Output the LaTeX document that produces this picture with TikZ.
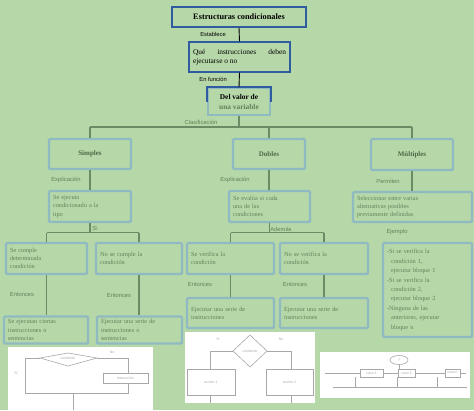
\documentclass[tikz,border=0pt]{standalone}
\usepackage{fontspec}
\setmainfont{Liberation Serif}
\newfontfamily\labfont{Liberation Sans}
\usetikzlibrary{shapes.geometric}
\definecolor{bggreen}{HTML}{B6D7A8}
\definecolor{topblue}{HTML}{2E5C9E}
\definecolor{blurblue}{HTML}{8FBAC2}
\definecolor{blurline}{HTML}{6A8B63}
\definecolor{blurtext}{HTML}{5F825A}
\definecolor{fcgray}{HTML}{A8A8A8}
\begin{document}
\begin{tikzpicture}[x=1pt,y=-1pt,
  topbox/.style={draw=topblue, line width=1.3pt, inner sep=2pt},
  blurbox/.style={draw=blurblue, line width=2.4pt, rounded corners=1.2pt, inner xsep=3.5pt, inner ysep=2pt,
    align=left, text=blurtext, font=\fontsize{6.3}{8.3}\selectfont},
  titlebox/.style={blurbox, align=center, text=blurtext!80!black, font=\bfseries\fontsize{7}{8}\selectfont},
  conn/.style={line width=0.9pt, draw=black},
  bconn/.style={line width=1.6pt, draw=blurline},
  lab/.style={font=\labfont\fontsize{5.8}{6.5}\selectfont, inner sep=1pt},
  blab/.style={font=\labfont\fontsize{5.8}{6.5}\selectfont, text=blurtext, inner sep=1pt},
  fcline/.style={draw=fcgray, line width=0.6pt},
  fctext/.style={font=\labfont\fontsize{3.5}{4}\selectfont, text=fcgray, inner sep=0.5pt}]
\fill[bggreen] (0,0) rectangle (474,410);
\useasboundingbox (0,0) rectangle (474,410);

% top part
\node[topbox, minimum width=134pt, minimum height=20pt, font=\bfseries\fontsize{8.3}{9}\selectfont] (b1) at (239,17) {Estructuras condicionales};
\node[topbox, minimum width=101pt, minimum height=30pt, text width=93pt, align=justify, font=\fontsize{7.4}{9}\selectfont] (b2) at (239.5,57) {Qué instrucciones deben \mbox{ejecutarse} o no};
\node[draw=blurblue, line width=2pt, minimum width=62pt, minimum height=27pt, align=center, inner sep=1.5pt, font=\fontsize{7.4}{9.5}\selectfont] (b3) at (239,101.5) {\textbf{Del valor de}\\[0.5pt]\textcolor{blurtext}{\bfseries una variable}};
\draw[draw=topblue, line width=1.3pt] (b3.west) -- (b3.north west) -- (b3.north east) -- (b3.east);
\draw[conn] (b1.south) -- (b2.north) node[lab, pos=0.5, left=12pt] {Establece};
\draw[conn] (b2.south) -- (b3.north) node[lab, pos=0.45, left=11pt] {En función};

% level 1
\node[titlebox, minimum width=82pt, minimum height=30pt] (simp) at (90,154) {Simples};
\node[titlebox, minimum width=72pt, minimum height=30pt] (dobl) at (269,154) {Dobles};
\node[titlebox, minimum width=82pt, minimum height=31pt] (mult) at (412,154.5) {Múltiples};
\coordinate (bus) at (239,127);
\draw[bconn] (b3.south) -- (bus);
\draw[bconn] (simp.north |- bus) -- (mult.north |- bus);
\draw[bconn] (simp.north |- bus) -- (simp.north);
\draw[bconn] (dobl.north |- bus) -- (dobl.north);
\draw[bconn] (mult.north |- bus) -- (mult.north);
\node[blab] (clas) at (201,122) {Clasificación};

% level 2
\node[blurbox, minimum width=82pt, minimum height=31pt, text width=74pt] (s2) at (90,206.5) {Se ejecuta\\condicionado a la\\tipo};
\node[blurbox, minimum width=81pt, minimum height=31pt, text width=73pt] (d2) at (269.5,206.5) {Se evalúa si cada\\una de las\\condiciones};
\node[blurbox, minimum width=119pt, minimum height=30pt, text width=111pt] (m2) at (412.5,207) {Seleccionar entre varias\\alternativas posibles\\previamente definidas};
\draw[bconn] (simp.south) -- (s2.north);
\draw[bconn] (dobl.south) -- (dobl.south |- d2.north);
\draw[bconn] (mult.south) -- (mult.south |- m2.north);
\node[blab] (l1) at (66,180) {Explicación};
\node[blab] (l2) at (235,180) {Explicación};
\node[blab] (l3) at (388,181) {Permiten};

% simples branch
\coordinate (sb) at (90,232.5);
\node[blurbox, minimum width=81pt, minimum height=31pt, text width=73pt] (sa) at (46.5,258.5) {Se cumple\\determinada\\condición};
\node[blurbox, minimum width=86pt, minimum height=31pt, text width=78pt] (sn) at (139,258.5) {No se cumple la\\condición};
\draw[bconn] (s2.south) -- (sb);
\draw[bconn] (sa.north |- sb) -- (sn.north |- sb);
\draw[bconn] (sa.north |- sb) -- (sa.north);
\draw[bconn] (sn.north |- sb) -- (sn.north);
\node[blab] (l4) at (95,228) {Si};
\node[blurbox, minimum width=84pt, minimum height=27pt, text width=76pt] (sc) at (46,330) {Se ejecutan ciertas\\instrucciones o\\sentencias};
\node[blurbox, minimum width=85pt, minimum height=27pt, text width=77pt] (sd) at (139.5,330) {Ejecutar una serie de\\instrucciones o\\sentencias};
\draw[bconn] (sa.south) -- (sa.south |- sc.north);
\draw[bconn] (sn.south) -- (sn.south |- sd.north);
\node[blab] (l5) at (22,295) {Entonces};
\node[blab] (l6) at (119,296) {Entonces};

% dobles branch
\coordinate (db) at (269.5,232.5);
\node[blurbox, minimum width=87pt, minimum height=31pt, text width=79pt] (de) at (230.5,258.5) {Se verifica la\\condición};
\node[blurbox, minimum width=88pt, minimum height=31pt, text width=80pt] (df) at (324,258.5) {No se verifica la\\condición};
\draw[bconn] (d2.south) -- (db);
\draw[bconn] (de.north |- db) -- (df.north |- db);
\draw[bconn] (de.north |- db) -- (de.north);
\draw[bconn] (df.north |- db) -- (df.north);
\node[blab] (l7) at (281,229) {Además};
\node[blurbox, minimum width=87pt, minimum height=30pt, text width=79pt] (dg) at (230.5,313) {Ejecutar una serie de\\instrucciones};
\node[blurbox, minimum width=88pt, minimum height=30pt, text width=80pt] (dh) at (324,313) {Ejecutar una serie de\\instrucciones};
\draw[bconn] (de.south) -- (de.south |- dg.north);
\draw[bconn] (df.south) -- (df.south |- dh.north);
\node[blab] (l8) at (200,285) {Entonces};
\node[blab] (l9) at (295,285) {Entonces};

% multiples branch
\node[blurbox, minimum width=89pt, minimum height=94pt, text width=81pt, font=\fontsize{6.3}{9.4}\selectfont] (mi) at (427.5,290) {-Si se verifica la\\\hspace*{4pt}condición 1,\\\hspace*{4pt}ejecutar bloque 1\\-Si se verifica la\\\hspace*{4pt}condición 2,\\\hspace*{4pt}ejecutar bloque 2\\-Ninguna de las\\\hspace*{4pt}anteriores, ejecutar\\\hspace*{4pt}bloque n};
\node[blab] (l10) at (397,232) {Ejemplo};

% flowchart image 1
\fill[white] (8,347) rectangle (153,410);
\draw[fcline] (40,358) -- (68,353) -- (97,358) -- (68,366) -- cycle;
\node[fctext] at (68,358.5) {condición};
\draw[fcline] (40,358) -- (25,358) -- (25,393) -- (128,393) -- (128,383);
\draw[fcline] (97,358) -- (128,358) -- (128,373);
\draw[fcline] (103,373) rectangle (148,383);
\node[fctext] at (125.5,378) {instrucción};
\draw[fcline] (73,393) -- (73,410);
\node[fctext] at (16,373) {Sí};
\node[fctext] at (112,352) {No};

% flowchart image 2
\fill[white] (185,332) rectangle (315,403);
\draw[fcline] (233,351) -- (250,335) -- (267,351) -- (250,367) -- cycle;
\node[fctext] at (250,351) {condición};
\draw[fcline] (233,351) -- (210,351) -- (210,369);
\draw[fcline] (267,351) -- (291,351) -- (291,369);
\draw[fcline] (187,369) rectangle (235,395);
\draw[fcline] (266,369) rectangle (313,395);
\node[fctext] at (211,382) {acción 1};
\node[fctext] at (289.5,382) {acción 2};
\draw[fcline] (210,395) -- (210,403);
\draw[fcline] (291,395) -- (291,403);
\node[fctext] at (218,339) {Sí};
\node[fctext] at (281,339) {No};

% flowchart image 3
\fill[white] (320,352) rectangle (470,398);
\draw[fcline] (399,360) ellipse [x radius=9, y radius=4.5];
\node[fctext] at (399,360) {?};
\draw[fcline] (399,364.5) -- (399,369);
\draw[fcline] (325,373) -- (360,373);
\draw[fcline] (360,369) rectangle (383,377);
\draw[fcline] (383,373) -- (398,373);
\draw[fcline] (398,369) rectangle (415,377);
\draw[fcline] (415,373) -- (445,373);
\draw[fcline] (445,369) rectangle (460,377);
\draw[fcline] (460,373) -- (466,373);
\node[fctext] at (371.5,373) {caso 1};
\node[fctext] at (406.5,373) {caso 2};
\node[fctext] at (452.5,373) {caso n};
\draw[fcline] (355,377) -- (355,387);
\draw[fcline] (397,377) -- (397,387);
\draw[fcline] (437,377) -- (437,387);
\draw[fcline] (333,387) -- (467,387);
\end{tikzpicture}
\end{document}
